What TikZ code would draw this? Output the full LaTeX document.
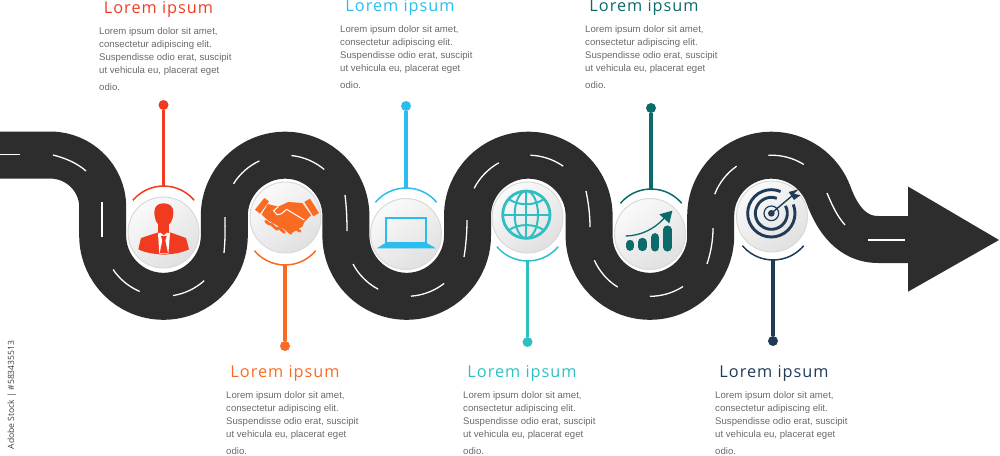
\documentclass[tikz,border=0pt]{standalone}
\usepackage{fontspec}
\setmainfont{Liberation Sans}
\newfontfamily\titlefont[LetterSpace=6]{Open Sans}
\newfontfamily\stockfont{Open Sans}
\definecolor{roadc}{HTML}{2D2D2D}
\definecolor{cred}{HTML}{F13B20}
\definecolor{corange}{HTML}{F96B22}
\definecolor{csky}{HTML}{2BBDEE}
\definecolor{cteal}{HTML}{2FBFC3}
\definecolor{cdteal}{HTML}{0C6A6A}
\definecolor{cnavy}{HTML}{1F3B57}
\definecolor{bodyc}{HTML}{6A6A6A}
\tikzset{
  road/.style={draw=roadc,line width=47pt,line join=round},
  lane/.style={draw=white,line width=1.3pt},
  disc/.style={circle,minimum size=71pt,inner sep=0pt,draw=black!15,line width=1pt,shading=axis,left color=white!98!black,right color=white!88!black,shading angle=35},
  stemline/.style={line width=3.3pt},
  capline/.style={line width=1.5pt},
  enddot/.style={circle,inner sep=0pt,minimum size=10pt},
  titletext/.style={font=\fontsize{16.3}{18}\titlefont,inner sep=0pt,anchor=center},
  bodytext/.style={font=\fontsize{9.6}{13.25}\selectfont,text=bodyc,align=left,inner sep=0pt,anchor=north west},
  icon/.style={x=0.3333pt,y=-0.3333pt}
}
\newcommand{\lastgap}{\\[3.7pt]}
\begin{document}
\begin{tikzpicture}[x=1pt,y=-1pt]
\useasboundingbox (0,0) rectangle (1000,455);
% road
\draw[road] (0,155) -- (50,155)
  arc[start angle=-90,end angle=0,x radius=52.7,y radius=52]
  -- (102.7,235.5) arc[start angle=180,end angle=0,radius=60.8]
  -- (224.3,216) arc[start angle=180,end angle=360,radius=60.8]
  -- (345.9,235.5) arc[start angle=180,end angle=0,radius=60.8]
  -- (467.5,216) arc[start angle=180,end angle=360,radius=60.8]
  -- (589.1,235.5) arc[start angle=180,end angle=0,radius=60.8]
  -- (710.7,216) arc[start angle=180,end angle=340,radius=60.8]
  .. controls (837.2,218.7) and (852,239.5) .. (878,239.5) -- (915,239.5);
\fill[roadc] (908,186.5) -- (999,240) -- (908,291.7) -- cycle;
% lane markings
\draw[lane] (0,154.6) -- (20,154.6);
\draw[lane] (53,155) .. controls (65,158) and (77,163) .. (86,171);
\draw[lane] (102,202) -- (102,237);
\foreach \cx/\a/\b in {163.5/146/113,163.5/81/48,406.7/152/118,406.7/86/52,649.9/156/122,649.9/90/57}{
  \draw[lane] (\cx,235.5) ++(\a:60.8) arc[start angle=\a,end angle=\b,radius=60.8];
}
\foreach \cx/\a/\b in {285.1/212/245,285.1/276/310,528.3/207/241,528.3/272/305,771.5/201/235,771.5/267/302}{
  \draw[lane] (\cx,216) ++(\a:60.8) arc[start angle=\a,end angle=\b,radius=60.8];
}
\draw[lane] (224,253) .. controls (225.2,241) and (225.2,229) .. (225,217);
\draw[lane] (345,195) .. controls (346.5,207) and (347,219) .. (347,231);
\draw[lane] (464,257) .. controls (466,245) and (467,232) .. (467,220);
\draw[lane] (586,191) .. controls (588.5,203) and (590,215) .. (590,227);
\draw[lane] (707,264) .. controls (711,252) and (713,240) .. (713,228);
\draw[lane] (827,193) .. controls (832,205) and (837,216) .. (845,225);
\draw[lane] (868,240) -- (905,240);
% discs
\node[disc] (disc1) at (163.5,232.5) {};
\node[disc] (disc2) at (285.5,217.5) {};
\node[disc] (disc3) at (406,234) {};
\node[disc] (disc4) at (527.5,217.5) {};
\node[disc] (disc5) at (650,234) {};
\node[disc] (disc6) at (772,216.5) {};
% stems
\node[enddot,fill=cred] (dot1) at (163.5,105) {};
\coordinate (peak1) at (163.5,186);
\draw[stemline,cred] (dot1) -- (peak1);
\draw[capline,cred] (peak1) ++(-30.6,14.3) arc[start angle=220,end angle=320,radius=40];
\node[enddot,fill=corange] (dot2) at (285,346) {};
\coordinate (peak2) at (285,265);
\draw[stemline,corange] (dot2) -- (peak2);
\draw[capline,corange] (peak2) ++(-30.6,-14.3) arc[start angle=140,end angle=40,radius=40];
\node[enddot,fill=csky] (dot3) at (406,106) {};
\coordinate (peak3) at (406,188);
\draw[stemline,csky] (dot3) -- (peak3);
\draw[capline,csky] (peak3) ++(-30.6,14.3) arc[start angle=220,end angle=320,radius=40];
\node[enddot,fill=cteal] (dot4) at (527.5,342) {};
\coordinate (peak4) at (527.5,261);
\draw[stemline,cteal] (dot4) -- (peak4);
\draw[capline,cteal] (peak4) ++(-30.6,-14.3) arc[start angle=140,end angle=40,radius=40];
\node[enddot,fill=cdteal] (dot5) at (651,108) {};
\coordinate (peak5) at (651,189);
\draw[stemline,cdteal] (dot5) -- (peak5);
\draw[capline,cdteal] (peak5) ++(-30.6,14.3) arc[start angle=220,end angle=320,radius=40];
\node[enddot,fill=cnavy] (dot6) at (773,341) {};
\coordinate (peak6) at (773,260);
\draw[stemline,cnavy] (dot6) -- (peak6);
\draw[capline,cnavy] (peak6) ++(-30.6,-14.3) arc[start angle=140,end angle=40,radius=40];
% person icon
\begin{scope}[shift={(125,192)},icon]
  \fill[cred] (88,60) .. controls (88,42) and (100,34) .. (116,34) .. controls (134,34) and (146,44) .. (145,62)
     .. controls (145,85) and (132,106) .. (116,106) .. controls (100,106) and (88,85) .. (88,60) -- cycle;
  \fill[cred] (100,95) rectangle (132,130);
  \fill[cred] (40,172) -- (48,138) -- (97,122) -- (138,122) -- (183,138) -- (192,172)
     .. controls (170,182) and (150,186) .. (116,188) .. controls (85,186) and (60,182) .. (40,172) -- cycle;
  \fill[white] (99,124) -- (106,122) -- (116,130) -- (126,122) -- (135,124) -- (130,186) -- (103,186) -- cycle;
  \fill[cred] (108,132) -- (125,132) -- (121,146) -- (129,184) -- (104,184) -- (112,146) -- cycle;
\end{scope}
% handshake icon
\begin{scope}[shift={(245,178)},icon,corange]
  \fill (30,95) -- (58,60) -- (72,70) -- (45,107) -- cycle;
  \fill (178,72) -- (195,62) -- (222,105) -- (205,115) -- cycle;
  \fill (68,78) -- (100,86) -- (130,72) -- (172,75) -- (198,112) -- (178,132) -- (172,146) -- (140,165) -- (110,150) -- (70,128) -- (50,110) -- cycle;
  \draw[white,line width=1pt] (100,86) -- (86,98) -- (96,110) -- (108,108) -- (125,94) -- (178,126);
  \draw[line width=2.8pt,line cap=round] (62,130) -- (74,139) (78,138) -- (96,154) (100,148) -- (118,163) (122,152) -- (138,166) (150,150) -- (165,160);
\end{scope}
% laptop icon
\begin{scope}[shift={(366,195)},icon,csky]
  \draw[line width=1.7pt] (61,68) rectangle (179,145);
  \fill (60,143) -- (180,143) -- (210,160) -- (32,160) -- cycle;
\end{scope}
% globe icon
\begin{scope}[shift={(488,178)},icon,cteal]
  \draw[line width=2.8pt] (115,110) circle[radius=71];
  \draw[line width=2pt] (115,39) -- (115,181) (44,110) -- (186,110);
  \draw[line width=2pt] (115,110) ellipse[x radius=35,y radius=71];
  \draw[line width=2pt] (62,63) .. controls (90,84) and (140,84) .. (168,63);
  \draw[line width=2pt] (62,157) .. controls (90,136) and (140,136) .. (168,157);
\end{scope}
% chart icon
\begin{scope}[shift={(610,195)},icon,cdteal]
  \draw[line width=8.4pt,line cap=round] (60,147) -- (60,155) (97,141) -- (97,156) (135,127) -- (135,157) (172,104) -- (172,157);
  \draw[line width=1.3pt] (47,123) .. controls (90,122) and (130,105) .. (162,70);
  \fill (187,47) -- (148,58) -- (178,85) -- cycle;
\end{scope}
% target icon
\begin{scope}[shift={(732,176)},icon,cnavy]
  \draw[line width=2.9pt] (118,112) ++(-22:71) arc[start angle=-22,end angle=293,radius=71];
  \draw[line width=2.9pt] (118,112) ++(-28:48) arc[start angle=-28,end angle=290,radius=48];
  \draw[line width=1.2pt] (118,112) circle[radius=22];
  \fill (118,112) circle[radius=10];
  \draw[line width=1.4pt] (118,112) -- (182,58);
  \fill (170,48) -- (200,40) -- (186,53) -- (205,58) -- (186,72) -- cycle;
\end{scope}
% titles
\node[titletext,text=cred] (t1) at (158.5,9.5) {Lorem ipsum};
\node[titletext,text=corange] (t2) at (285,373.5) {Lorem ipsum};
\node[titletext,text=csky] (t3) at (400,7.5) {Lorem ipsum};
\node[titletext,text=cteal] (t4) at (522,373.5) {Lorem ipsum};
\node[titletext,text=cdteal] (t5) at (644,7.5) {Lorem ipsum};
\node[titletext,text=cnavy] (t6) at (774,373.5) {Lorem ipsum};
% body texts
\node[bodytext] (b1) at (99,27) {Lorem ipsum dolor sit amet,\\consectetur adipiscing elit.\\Suspendisse odio erat, suscipit\\ut vehicula eu, placerat eget\lastgap odio.};
\node[bodytext] (b2) at (226,391) {Lorem ipsum dolor sit amet,\\consectetur adipiscing elit.\\Suspendisse odio erat, suscipit\\ut vehicula eu, placerat eget\lastgap odio.};
\node[bodytext] (b3) at (340,25) {Lorem ipsum dolor sit amet,\\consectetur adipiscing elit.\\Suspendisse odio erat, suscipit\\ut vehicula eu, placerat eget\lastgap odio.};
\node[bodytext] (b4) at (463,391) {Lorem ipsum dolor sit amet,\\consectetur adipiscing elit.\\Suspendisse odio erat, suscipit\\ut vehicula eu, placerat eget\lastgap odio.};
\node[bodytext] (b5) at (585,25) {Lorem ipsum dolor sit amet,\\consectetur adipiscing elit.\\Suspendisse odio erat, suscipit\\ut vehicula eu, placerat eget\lastgap odio.};
\node[bodytext] (b6) at (715,391) {Lorem ipsum dolor sit amet,\\consectetur adipiscing elit.\\Suspendisse odio erat, suscipit\\ut vehicula eu, placerat eget\lastgap odio.};
% credit
\node[rotate=90,font=\fontsize{8.6}{10}\stockfont,text=black!75,inner sep=0pt] (credit) at (12,395) {Adobe Stock | \#583435513};
\end{tikzpicture}
\end{document}
